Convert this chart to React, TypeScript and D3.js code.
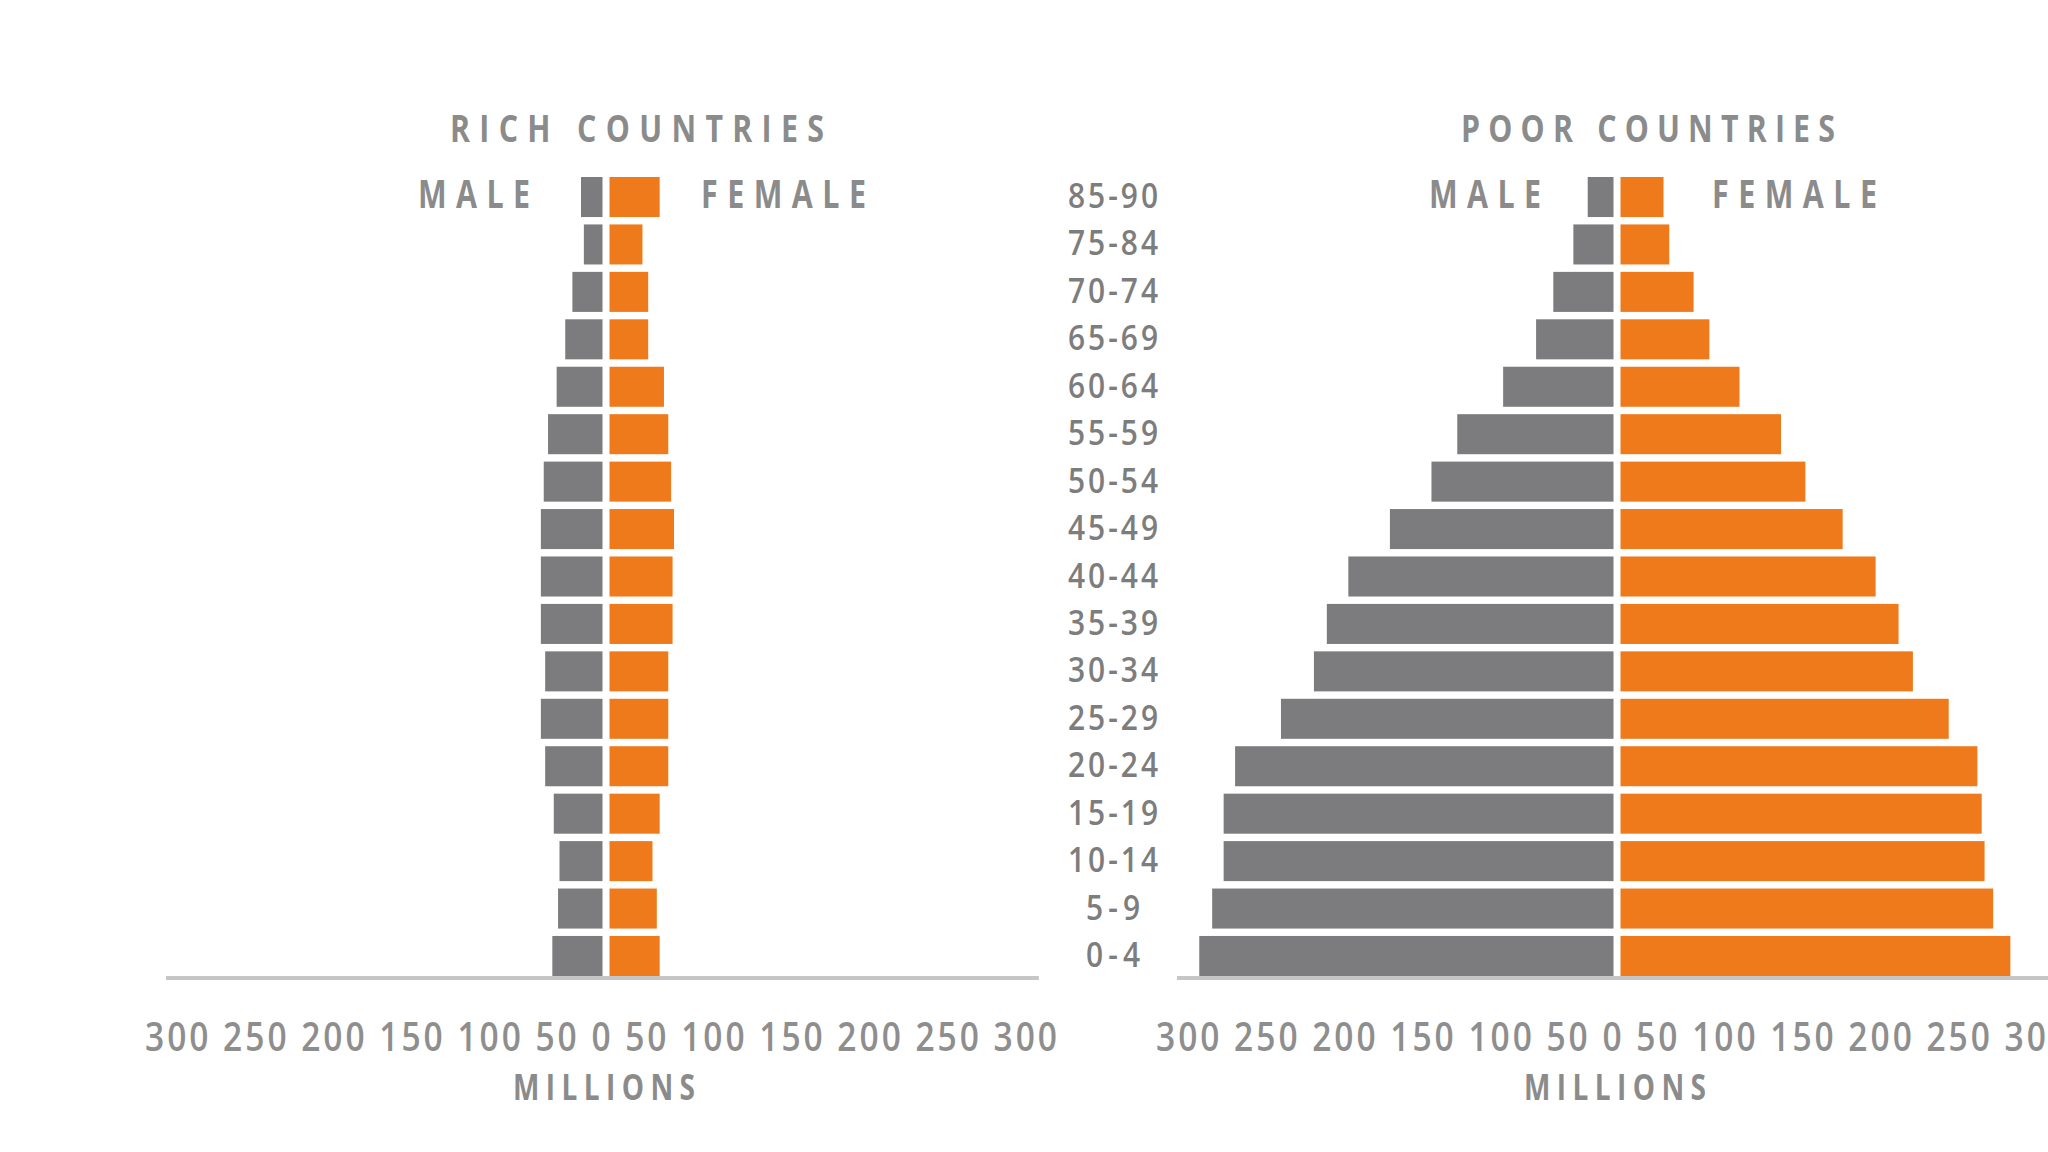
import React from "react";
import * as d3 from "d3";

// ---------- data ----------
const AGE_GROUPS = ["85-90","75-84","70-74","65-69","60-64","55-59","50-54","45-49","40-44","35-39","30-34","25-29","20-24","15-19","10-14","5-9","0-4"];
const RICH_MALE = [15, 13, 21, 26, 32, 38, 41, 43, 43, 43, 40, 43, 40, 34, 30, 31, 35];
const RICH_FEMALE = [35, 23, 27, 27, 38, 41, 43, 45, 44, 44, 41, 41, 41, 35, 30, 33, 35];
const POOR_MALE = [18, 28, 42, 54, 77, 109, 127, 156, 185, 200, 209, 232, 264, 272, 272, 280, 289];
const POOR_FEMALE = [30, 34, 51, 62, 83, 112, 129, 155, 178, 194, 204, 229, 249, 252, 254, 260, 272];
const TICK_VALUES = [-300, -250, -200, -150, -100, -50, 0, 50, 100, 150, 200, 250, 300];
const AXIS_EXTENT = [-307, 302];
const PANEL_TITLES = ["RICH COUNTRIES", "POOR COUNTRIES"];
const SEX_LABELS = ["MALE", "FEMALE"];
const UNIT_LABEL = "MILLIONS";

// ---------- style ----------
const W = 2048, H = 1152;
const GRAY = "#7c7c7e";
const ORANGE = "#ef7a1b";
const TEXT = "#8b8b8b";
const AGE_TEXT = "#7d7d7d";
const LINE = "#c6c6c6";
const FONT = "'Open Sans', 'Liberation Sans', sans-serif";

const xLen = d3.scaleLinear().domain([0, 300]).range([0, 430]);
const y = d3.scaleBand<string>().domain(AGE_GROUPS).range([177, 976]).paddingInner(0.156).paddingOuter(0);
const HALF_GAP = 3.5;

type LabelProps = {
  x: number; y: number; w: number; size: number; sx?: number;
  anchor?: "start" | "middle" | "end"; fill?: string; weight?: number; text: string;
};
function Label({ x, y, w, size, sx = 1, anchor = "middle", fill = TEXT, weight = 600, text }: LabelProps) {
  return (
    <g transform={`translate(${x},${y}) scale(${sx},1)`}>
      <text x={0} y={0} textAnchor={anchor} fontFamily={FONT} fontSize={size} fontWeight={weight}
        fill={fill} textLength={w / sx} lengthAdjust="spacing">{text}</text>
    </g>
  );
}

function Panel({ cx, title, male, female }: { cx: number; title: string; male: number[]; female: number[] }) {
  const xs = (v: number) => cx + (v < 0 ? -1 : 1) * xLen(Math.abs(v));
  const tickText = TICK_VALUES.map((v) => String(Math.abs(v))).join(" ");
  return (
    <g>
      <Label x={cx + 31} y={142} w={374} size={37} sx={0.82} weight={700} text={title} />
      <Label x={cx - 76} y={208} w={112} size={39} sx={0.78} weight={700} anchor="end" text={SEX_LABELS[0]} />
      <Label x={cx + 95} y={208} w={165} size={39} sx={0.78} weight={700} anchor="start" text={SEX_LABELS[1]} />
      {AGE_GROUPS.map((g, i) => (
        <rect key={"m" + g} x={cx - HALF_GAP - xLen(male[i])} y={y(g)} width={xLen(male[i])} height={y.bandwidth()} fill={GRAY} />
      ))}
      {AGE_GROUPS.map((g, i) => (
        <rect key={"f" + g} x={cx + HALF_GAP} y={y(g)} width={xLen(female[i])} height={y.bandwidth()} fill={ORANGE} />
      ))}
      <line x1={xs(AXIS_EXTENT[0])} x2={xs(AXIS_EXTENT[1])} y1={978} y2={978} stroke={LINE} strokeWidth={4} />
      <Label x={cx - 5} y={1051} w={912} size={39} sx={0.86} fill="#8e8e8e" weight={600} text={tickText} />
      <Label x={cx - 2} y={1100} w={182} size={35} sx={0.8} weight={700} text={UNIT_LABEL} />
    </g>
  );
}

export default function App() {
  return (
    <svg width={W} height={H} viewBox={`0 0 ${W} ${H}`} style={{ position: "absolute", left: 0, top: 0, background: "#ffffff" }}>
      <rect x={0} y={0} width={W} height={H} fill="#ffffff" />
      <Panel cx={606} title={PANEL_TITLES[0]} male={RICH_MALE} female={RICH_FEMALE} />
      <Panel cx={1617} title={PANEL_TITLES[1]} male={POOR_MALE} female={POOR_FEMALE} />
      {AGE_GROUPS.map((g) => (
        <Label key={"a" + g} x={1113} y={(y(g) as number) + y.bandwidth() / 2 + 11} w={g.length * 18} size={34}
          sx={0.88} fill={AGE_TEXT} text={g} />
      ))}
    </svg>
  );
}
